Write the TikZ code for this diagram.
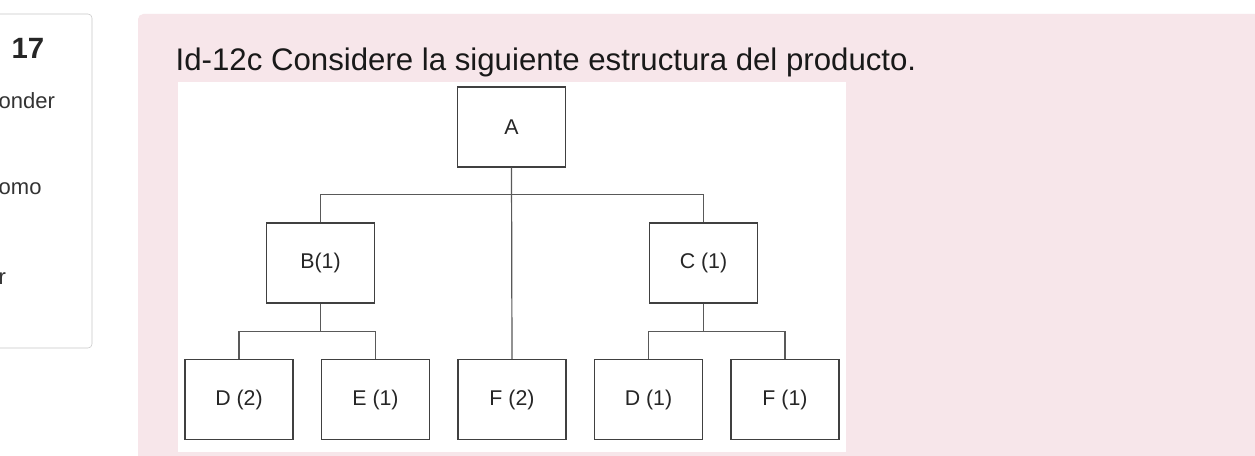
\documentclass[tikz,border=0pt]{standalone}
\usepackage{fontspec}
\setmainfont{Liberation Sans}
\begin{document}
\begin{tikzpicture}[x=0.75pt,y=-0.75pt,
  part/.style={draw=black!75,line width=0.9pt,fill=white,minimum width=81pt,minimum height=60pt,inner sep=0pt,font=\fontsize{16}{18}\selectfont,text=black!85},
  link/.style={draw=black!65,line width=0.9pt},
  side/.style={font=\fontsize{16.5}{19}\selectfont,text=black!80,anchor=west}]
\useasboundingbox (0,0) rectangle (1255,456);
\fill[white] (0,0) rectangle (1255,456);
% left panel
\draw[black!22,fill=white,rounded corners=3pt] (-10,14) rectangle (92,348);
\node[font=\fontsize{22}{25}\selectfont\bfseries,text=black!85] (num) at (28,48) {17};
\node[side] (t1) at (-6,101) {onder};
\node[side] (t2) at (-6,189) {omo};
\node[side] (t3) at (-6,279) {r};
% right panel
\fill[fill={rgb,255:red,247;green,230;blue,234},rounded corners=4pt] (138,14) rectangle (1265,470);
\node[anchor=west,font=\fontsize{23.4}{27}\selectfont,text=black!90] (title) at (171,62) {Id-12c Considere la siguiente estructura del producto.};
\fill[white] (178,82) rectangle (846,452);
% boxes
\node[part] (A) at (511.5,127) {A};
\node[part] (B) at (320.5,263) {B(1)};
\node[part] (C) at (703.5,263) {C (1)};
\node[part] (D2) at (239,399.5) {D (2)};
\node[part] (E1) at (375.5,399.5) {E (1)};
\node[part] (F2) at (512,399.5) {F (2)};
\node[part] (D1) at (648.5,399.5) {D (1)};
\node[part] (F1) at (785,399.5) {F (1)};
% connectors
\draw[link] (A.south) -- (F2.north);
\draw[link] (B.north) -- ++(0,-28) -| (C.north);
\draw[link] (B.south) -- ++(0,28) coordinate (bj);
\draw[link] (D2.north) |- (bj) -| (E1.north);
\draw[link] (C.south) -- ++(0,28) coordinate (cj);
\draw[link] (D1.north) |- (cj) -| (F1.north);
\end{tikzpicture}
\end{document}
